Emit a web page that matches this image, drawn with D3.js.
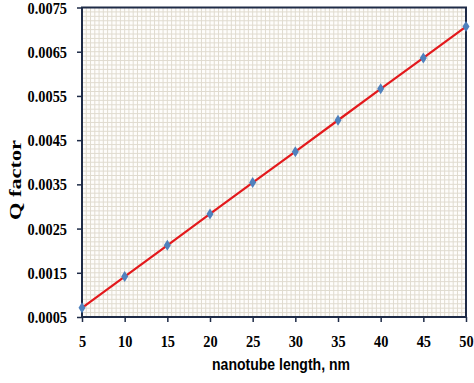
<!DOCTYPE html>
<html><head><meta charset="utf-8">
<script src="https://cdn.jsdelivr.net/npm/d3@7"></script>
<style>
html,body{margin:0;padding:0;background:#fff;}
svg{display:block;}
</style></head>
<body>
<svg id="c" width="474" height="383"></svg>
<script>
const lengths = [5, 10, 15, 20, 25, 30, 35, 40, 45, 50];
const qFactor = [0.000707, 0.001414, 0.00212, 0.00283, 0.00354, 0.00424, 0.00495, 0.00566, 0.00636, 0.00707];
const xTicks = [5, 10, 15, 20, 25, 30, 35, 40, 45, 50];
const yTicks = [0.0005, 0.0015, 0.0025, 0.0035, 0.0045, 0.0055, 0.0065, 0.0075];
const xTitle = "nanotube length, nm";
const yTitle = "Q factor";

const svg = d3.select("#c");
const L = 82, R = 466, T = 7.5, B = 317;
const x = d3.scaleLinear().domain([5, 50]).range([L, R]);
const y = d3.scaleLinear().domain([0.0005, 0.0075]).range([B, T]);

// plot background
svg.append("rect").attr("x", L).attr("y", T).attr("width", R - L).attr("height", B - T).attr("fill", "#fefdfb");

// fine grid
const g = svg.append("g").attr("stroke", "#e0dbcf").attr("stroke-width", 1);
g.selectAll("line.v").data(d3.range(5.5, 50, 0.5)).join("line")
  .attr("x1", d => x(d)).attr("x2", d => x(d)).attr("y1", T).attr("y2", B);
g.selectAll("line.h").data(d3.range(6, 75).map(i => i / 10000)).join("line")
  .attr("y1", d => y(d)).attr("y2", d => y(d)).attr("x1", L).attr("x2", R);

// axes
const axisColor = "#1e2b47";
const xa = svg.append("g").attr("transform", `translate(0,${B})`)
  .call(d3.axisBottom(x).tickValues(xTicks).tickSize(5).tickPadding(13).tickFormat(d3.format("d")));
const ya = svg.append("g").attr("transform", `translate(${L},0)`)
  .call(d3.axisLeft(y).tickValues(yTicks).tickSize(5).tickPadding(10).tickFormat(d3.format(".4f")));
[xa, ya].forEach(a => {
  a.select(".domain").remove();
  a.selectAll(".tick line").attr("stroke", axisColor).attr("stroke-width", 1.5);
  a.selectAll(".tick text").attr("fill", "#000")
    .style("font-family", "'Liberation Serif', 'Times New Roman', serif")
    .style("font-weight", "bold").style("font-size", "17.5px");
});
xa.selectAll(".tick text").each(function () {
  const w = this.getComputedTextLength();
  d3.select(this).attr("textLength", w * 0.82).attr("lengthAdjust", "spacingAndGlyphs");
});
ya.selectAll(".tick text").each(function () {
  const w = this.getComputedTextLength();
  d3.select(this).attr("textLength", w * 0.82).attr("lengthAdjust", "spacingAndGlyphs");
});

// frame
svg.append("rect").attr("x", L).attr("y", T).attr("width", R - L).attr("height", B - T)
  .attr("fill", "none").attr("stroke", axisColor).attr("stroke-width", 2);

// line
const pts = lengths.map((d, i) => [d, qFactor[i]]);
svg.append("path").datum(pts)
  .attr("d", d3.line().x(d => x(d[0])).y(d => y(d[1])))
  .attr("fill", "none").attr("stroke", "#e3191c").attr("stroke-width", 2.2);

// markers
svg.selectAll("path.m").data(pts).join("path")
  .attr("transform", d => `translate(${x(d[0])},${y(d[1])})`)
  .attr("d", "M0,-5.5L3.5,0L0,5.5L-3.5,0Z")
  .attr("fill", "#4f81bd");

// titles
const xt = svg.append("text").attr("x", 281).attr("y", 370).attr("text-anchor", "middle")
  .style("font-family", "'Liberation Sans', Arial, sans-serif").style("font-weight", "bold")
  .style("font-size", "17px").attr("fill", "#000").text(xTitle);
xt.attr("textLength", 138).attr("lengthAdjust", "spacingAndGlyphs");

const yt = svg.append("text").attr("transform", "translate(21,180) rotate(-90)").attr("text-anchor", "middle")
  .style("font-family", "'Liberation Serif', 'Times New Roman', serif").style("font-weight", "bold")
  .style("font-size", "17px").attr("fill", "#000").text(yTitle);
yt.attr("textLength", 80).attr("lengthAdjust", "spacingAndGlyphs");
</script>
</body></html>
